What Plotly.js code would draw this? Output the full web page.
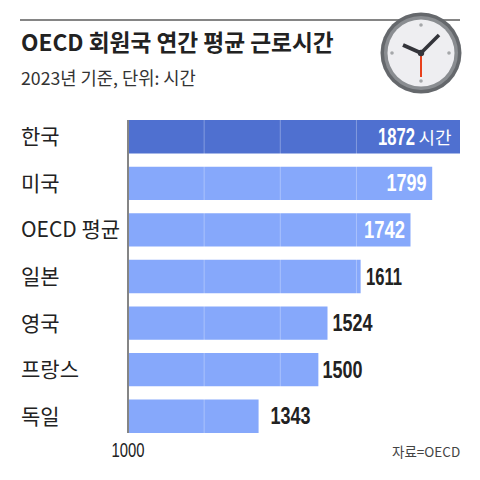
<!DOCTYPE html>
<html><head><meta charset="utf-8">
<script src="https://cdn.plot.ly/plotly-3.0.1.min.js"></script>
<style>html,body{margin:0;padding:0;background:#fff}</style></head>
<body><div id="chart" style="width:480px;height:480px"></div>
<script>
const categories = ['한국','미국','OECD 평균','일본','영국','프랑스','독일'];
const hours = [1872,1799,1742,1611,1524,1500,1343];
const barColors = ['#4f70d0','#86a8fb','#86a8fb','#86a8fb','#86a8fb','#86a8fb','#86a8fb'];
const titleText = 'OECD 회원국 연간 평균 근로시간';
const subtitleText = '2023년 기준, 단위: 시간';
const unitText = '시간';
const sourceText = '자료=OECD';
const gridValues = [1200,1400,1600];

const KR = '"Noto Sans CJK KR","Noto Sans",sans-serif';
const NUM = '"Liberation Sans",sans-serif';
const px = v => v/480, py = v => 1-v/480;

const labelShift = [-64,-25.5,-26,23.5,25,24,31.5];
const labelWidth = [37,40,41,36,40,40,40];

const annotations = [];
const note = (x,y,text,size,color,anchor,family) => annotations.push({xref:'paper',yref:'paper',x:px(x),y:py(y),text,showarrow:false,xanchor:anchor||'left',yanchor:'middle',font:{family:family||KR,size,color},borderpad:0});
note(20,41.5,'<b>'+titleText+'</b>',22.7,'#222');
note(20,76.5,subtitleText,17.7,'#333');
note(461,450.5,sourceText,13.5,'#444','right');
note(434.5,136,unitText,17.5,'#fff','center');

const fit = {'1000':33, [unitText]:33};
categories.forEach((c,i)=>{
  annotations.push({xref:'paper',yref:'y',x:px(19.5),y:c,text:c,showarrow:false,xanchor:'left',yanchor:'middle',yshift:1.5,borderpad:0,font:{family:KR,size:21,color:'#222'}});
  const v = hours[i];
  fit[String(v)] = labelWidth[i];
  annotations.push({xref:'x',yref:'y',x:v,y:c,text:'<b>'+v+'</b>',showarrow:false,
    xanchor:'center',yanchor:'middle',xshift:labelShift[i],borderpad:0,
    font:{family:NUM,size:23,color:v>1700?'#fff':'#222'}});
});

const shapes = gridValues.map(v=>({type:'line',xref:'x',yref:'paper',x0:v,x1:v,y0:py(433),y1:py(120),line:{color:'rgba(255,255,255,0.3)',width:1},layer:'above'}));
const ps = (o)=>Object.assign({xref:'paper',yref:'paper',layer:'above'},o);
const circle = (cx,cy,r,fill)=>ps({type:'circle',x0:px(cx-r),x1:px(cx+r),y0:py(cy+r),y1:py(cy-r),fillcolor:fill,line:{width:0}});
const seg = (a,b,c,d,color,w)=>ps({type:'line',x0:px(a),y0:py(b),x1:px(c),y1:py(d),line:{color,width:w}});
shapes.push(seg(128,120,128,433,'#858585',2));
shapes.push(seg(20,20,460,20,'#858585',2));
shapes.push(circle(421,53,40.5,'#65686c'));
shapes.push(circle(421,53,37,'#8a8d91'));
shapes.push(circle(421,53,33.5,'#eeeef1'));
[[421,25],[449,53],[421,81],[392,53]].forEach(p=>shapes.push(circle(p[0],p[1],1.8,'#a5a7aa')));
shapes.push(seg(421,53,403,45,'#33343a',4));
shapes.push(seg(421,53,439,35,'#33343a',3.5));
shapes.push(seg(421,55,421,77,'#e8401c',2));
shapes.push(circle(421,53,3.2,'#33343a'));

Plotly.newPlot('chart',[{
  type:'bar',orientation:'h',x:hours,y:categories,width:0.715,
  marker:{color:barColors,line:{width:0}},hoverinfo:'none'
}],{
  width:480,height:480,margin:{l:0,r:0,t:0,b:0},paper_bgcolor:'#fff',plot_bgcolor:'#fff',
  showlegend:false,
  xaxis:{domain:[px(128),px(460)],range:[1000,1872],tickvals:[1000],ticktext:['1000'],showgrid:false,zeroline:false,showline:false,ticks:'',ticklabelstandoff:2,
    tickfont:{family:NUM,size:21,color:'#222'}},
  yaxis:{domain:[py(433),py(120)],type:'category',autorange:false,range:[6.36,-0.36],showticklabels:false,ticks:'',showgrid:false,zeroline:false,showline:false},
  annotations,shapes
},{displayModeBar:false,staticPlot:true}).then(()=>{
  document.querySelectorAll('text.annotation-text, .xtick text').forEach(t=>{
    const w = fit[t.textContent.trim()];
    if(w){ t.setAttribute('textLength',w); t.setAttribute('lengthAdjust','spacingAndGlyphs'); }
  });
});
</script></body></html>
